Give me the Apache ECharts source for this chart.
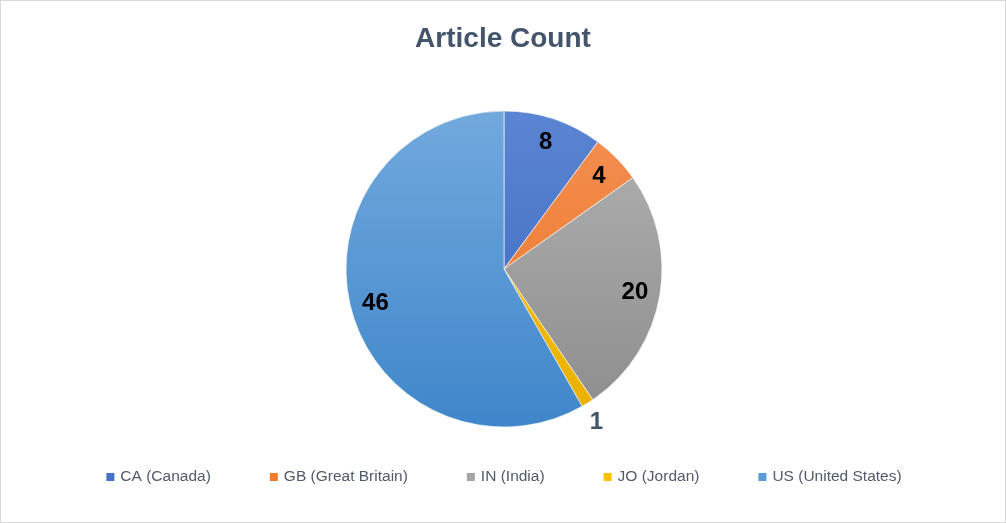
<!DOCTYPE html>
<html>
<head>
<meta charset="utf-8">
<script src="https://cdn.jsdelivr.net/npm/echarts@6/dist/echarts.min.js"></script>
<style>
html,body{margin:0;padding:0;background:#fff;}
#c{width:1004px;height:521px;border:1px solid #D9D9D9;}
</style>
</head>
<body>
<div id="c"></div>
<script>
const categories = ['CA (Canada)', 'GB (Great Britain)', 'IN (India)', 'JO (Jordan)', 'US (United States)'];
const values = [8, 4, 20, 1, 46];
const titleText = 'Article Count';

const gradTop = ['#5B85D2', '#F48F52', '#B2B2B2', '#FFC20A', '#72A9DD'];
const gradBottom = ['#3A67BE', '#EB7424', '#8C8C8C', '#E9B000', '#3F86CA'];
const legendColors = ['#4472C4', '#ED7D31', '#A5A5A5', '#FFC000', '#5B9BD5'];

const cx = 503, cy = 268, R = 158;

function grad(i) {
  return new echarts.graphic.LinearGradient(0, cy - R, 0, cy + R, [
    {offset: 0, color: gradTop[i]},
    {offset: 1, color: gradBottom[i]}
  ], true);
}

const chart = echarts.init(document.getElementById('c'), null, {renderer: 'canvas'});
const font = '"Liberation Sans", Arial, sans-serif';

chart.setOption({
  animation: false,
  title: {
    text: titleText,
    left: 'center',
    top: 19,
    textStyle: {fontFamily: font, fontSize: 28, fontWeight: 'bold', color: '#44546A'}
  },
  legend: {
    data: categories.map((n, i) => ({name: n, itemStyle: {color: legendColors[i]}})),
    left: 'center',
    top: 463,
    itemWidth: 10,
    itemHeight: 10,
    itemGap: 57,
    icon: 'rect',
    textStyle: {fontFamily: font, fontSize: 15.5, color: '#505A6A'}
  },
  series: [
    {
      type: 'pie',
      center: [cx, cy],
      radius: R,
      startAngle: 90,
      clockwise: true,
      silent: true,
      label: {show: false},
      labelLine: {show: false},
      itemStyle: {borderColor: '#ffffff', borderWidth: 0.6},
      data: categories.map((n, i) => ({name: n, value: values[i], itemStyle: {color: grad(i)}}))
    },
    {
      type: 'pie',
      center: [cx, cy],
      radius: [102, R],
      startAngle: 90,
      clockwise: true,
      silent: true,
      legendHoverLink: false,
      itemStyle: {color: 'rgba(0,0,0,0)'},
      label: {show: true, position: 'inside', formatter: '{c}', fontFamily: font, fontSize: 24, fontWeight: 'bold', color: '#000'},
      labelLine: {show: false},
      data: categories.map((n, i) => {
        const d = {name: n, value: values[i], itemStyle: {color: 'rgba(0,0,0,0)'}};
        if (values[i] < 2) {
          d.label = {position: 'outside', color: '#44546A', distanceToLabelLine: 0};
          d.labelLine = {show: false, length: 23, length2: -10};
        }
        return d;
      })
    }
  ]
});
</script>
</body>
</html>
